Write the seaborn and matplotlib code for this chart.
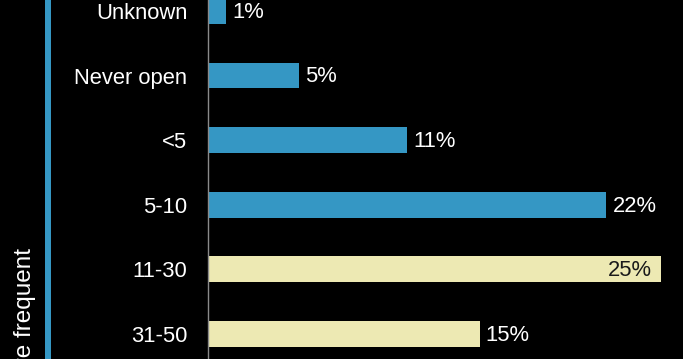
import matplotlib
matplotlib.use("Agg")
import matplotlib.pyplot as plt
import seaborn as sns
import pandas as pd
from matplotlib.patches import Rectangle

categories = ["Unknown", "Never open", "<5", "5-10", "11-30", "31-50"]
values = [1, 5, 11, 22, 25, 15]
groups = ["less", "less", "less", "less", "more", "more"]
value_labels = ["1%", "5%", "11%", "22%", "25%", "15%"]
side_label = "More frequent"

BLUE = "#3597C4"
YELLOW = "#EDE9B3"

sns.set_theme(style="white")
plt.rcParams["font.family"] = ["Liberation Sans", "DejaVu Sans"]

W, H = 683, 359
fig = plt.figure(figsize=(W / 100, H / 100), dpi=100, facecolor="black")
ax = fig.add_axes([208 / W, 0, (W - 208) / W, 1])
ax.set_facecolor("black")

df = pd.DataFrame({"cat": categories, "val": values, "grp": groups})
sns.barplot(data=df, x="val", y="cat", hue="grp", palette={"less": BLUE, "more": YELLOW},
            dodge=False, width=0.40, legend=False, ax=ax, saturation=1, edgecolor="none")

xmax = (W - 208) / 18.1
ax.set_xlim(0, xmax)
ax.set_ylim(5.387, -0.169)

for i, (v, lab) in enumerate(zip(values, value_labels)):
    if v > xmax * 0.9:
        ax.text(v - 0.45, i + 0.02, lab, ha="right", va="center", color="#1a1a1a", fontsize=15.8)
    else:
        ax.text(v + 0.35, i + 0.02, lab, ha="left", va="center", color="white", fontsize=15.8)

ax.set_xlabel("")
ax.set_ylabel("")
ax.set_xticks([])
ax.tick_params(axis="y", length=0, pad=15, labelsize=15.8, labelcolor="white")
for s in ["top", "right", "bottom"]:
    ax.spines[s].set_visible(False)
ax.spines["left"].set_color("#8a8a8a")
ax.spines["left"].set_linewidth(1)

fig.add_artist(Rectangle((45 / W, 0), 6 / W, 1, transform=fig.transFigure, color=BLUE, lw=0))
fig.text(25 / W, 1 - 248 / H, side_label, rotation=90, ha="center", va="top",
         color="white", fontsize=17.5)

fig.savefig("out.png", dpi=100, facecolor="black")
